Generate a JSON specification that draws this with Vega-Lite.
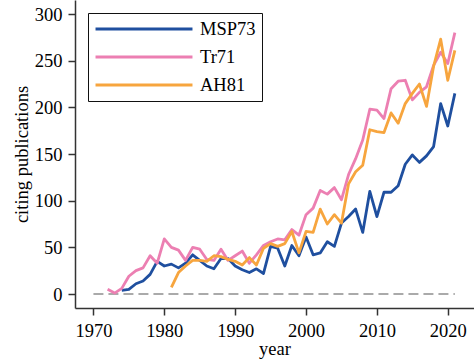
{
  "$schema": "https://vega.github.io/schema/vega-lite/v6.json",
  "width": 399,
  "height": 308,
  "autosize": {"type": "none"},
  "padding": {"left": 75, "top": 0, "right": 0, "bottom": 55},
  "background": "white",
  "config": {
    "view": {"stroke": null},
    "font": "Liberation Serif",
    "axis": {
      "grid": false,
      "domainColor": "#333333",
      "domainWidth": 1.5,
      "tickColor": "#333333",
      "tickWidth": 1.5,
      "tickSize": 7,
      "labelFont": "Liberation Serif",
      "labelFontSize": 18.5,
      "labelColor": "black",
      "titleFont": "Liberation Serif",
      "titleFontSize": 18.5,
      "titleFontWeight": "normal",
      "titleColor": "black"
    }
  },
  "datasets": {
    "zero": [{"year": 1970, "v": 0}, {"year": 2021, "v": 0}]
  },
  "layer": [
    {
      "data": {"name": "zero"},
      "mark": {"type": "line", "color": "#aaaaaa", "strokeWidth": 1.8, "strokeDash": [10, 5]},
      "encoding": {
        "x": {"field": "year", "type": "quantitative"},
        "y": {"field": "v", "type": "quantitative"}
      }
    },
    {
      "data": {
        "values": [
          {"year": 1974, "series": "MSP73", "count": 4},
          {"year": 1975, "series": "MSP73", "count": 5},
          {"year": 1976, "series": "MSP73", "count": 11},
          {"year": 1977, "series": "MSP73", "count": 14},
          {"year": 1978, "series": "MSP73", "count": 21},
          {"year": 1979, "series": "MSP73", "count": 35},
          {"year": 1980, "series": "MSP73", "count": 30},
          {"year": 1981, "series": "MSP73", "count": 32},
          {"year": 1982, "series": "MSP73", "count": 28},
          {"year": 1983, "series": "MSP73", "count": 33},
          {"year": 1984, "series": "MSP73", "count": 42},
          {"year": 1985, "series": "MSP73", "count": 36},
          {"year": 1986, "series": "MSP73", "count": 30},
          {"year": 1987, "series": "MSP73", "count": 27},
          {"year": 1988, "series": "MSP73", "count": 38},
          {"year": 1989, "series": "MSP73", "count": 38},
          {"year": 1990, "series": "MSP73", "count": 30},
          {"year": 1991, "series": "MSP73", "count": 26},
          {"year": 1992, "series": "MSP73", "count": 23},
          {"year": 1993, "series": "MSP73", "count": 27},
          {"year": 1994, "series": "MSP73", "count": 22},
          {"year": 1995, "series": "MSP73", "count": 51},
          {"year": 1996, "series": "MSP73", "count": 49},
          {"year": 1997, "series": "MSP73", "count": 30},
          {"year": 1998, "series": "MSP73", "count": 52},
          {"year": 1999, "series": "MSP73", "count": 41},
          {"year": 2000, "series": "MSP73", "count": 61},
          {"year": 2001, "series": "MSP73", "count": 42},
          {"year": 2002, "series": "MSP73", "count": 44},
          {"year": 2003, "series": "MSP73", "count": 56},
          {"year": 2004, "series": "MSP73", "count": 51},
          {"year": 2005, "series": "MSP73", "count": 76},
          {"year": 2006, "series": "MSP73", "count": 83},
          {"year": 2007, "series": "MSP73", "count": 91},
          {"year": 2008, "series": "MSP73", "count": 66},
          {"year": 2009, "series": "MSP73", "count": 110},
          {"year": 2010, "series": "MSP73", "count": 83},
          {"year": 2011, "series": "MSP73", "count": 109},
          {"year": 2012, "series": "MSP73", "count": 109},
          {"year": 2013, "series": "MSP73", "count": 116},
          {"year": 2014, "series": "MSP73", "count": 139},
          {"year": 2015, "series": "MSP73", "count": 149},
          {"year": 2016, "series": "MSP73", "count": 141},
          {"year": 2017, "series": "MSP73", "count": 148},
          {"year": 2018, "series": "MSP73", "count": 158},
          {"year": 2019, "series": "MSP73", "count": 204},
          {"year": 2020, "series": "MSP73", "count": 180},
          {"year": 2021, "series": "MSP73", "count": 215},
          {"year": 1972, "series": "Tr71", "count": 5},
          {"year": 1973, "series": "Tr71", "count": 1},
          {"year": 1974, "series": "Tr71", "count": 6},
          {"year": 1975, "series": "Tr71", "count": 19},
          {"year": 1976, "series": "Tr71", "count": 25},
          {"year": 1977, "series": "Tr71", "count": 28},
          {"year": 1978, "series": "Tr71", "count": 41},
          {"year": 1979, "series": "Tr71", "count": 33},
          {"year": 1980, "series": "Tr71", "count": 59},
          {"year": 1981, "series": "Tr71", "count": 50},
          {"year": 1982, "series": "Tr71", "count": 47},
          {"year": 1983, "series": "Tr71", "count": 36},
          {"year": 1984, "series": "Tr71", "count": 50},
          {"year": 1985, "series": "Tr71", "count": 48},
          {"year": 1986, "series": "Tr71", "count": 37},
          {"year": 1987, "series": "Tr71", "count": 36},
          {"year": 1988, "series": "Tr71", "count": 48},
          {"year": 1989, "series": "Tr71", "count": 36},
          {"year": 1990, "series": "Tr71", "count": 41},
          {"year": 1991, "series": "Tr71", "count": 46},
          {"year": 1992, "series": "Tr71", "count": 33},
          {"year": 1993, "series": "Tr71", "count": 42},
          {"year": 1994, "series": "Tr71", "count": 52},
          {"year": 1995, "series": "Tr71", "count": 56},
          {"year": 1996, "series": "Tr71", "count": 59},
          {"year": 1997, "series": "Tr71", "count": 58},
          {"year": 1998, "series": "Tr71", "count": 69},
          {"year": 1999, "series": "Tr71", "count": 63},
          {"year": 2000, "series": "Tr71", "count": 85},
          {"year": 2001, "series": "Tr71", "count": 92},
          {"year": 2002, "series": "Tr71", "count": 111},
          {"year": 2003, "series": "Tr71", "count": 107},
          {"year": 2004, "series": "Tr71", "count": 114},
          {"year": 2005, "series": "Tr71", "count": 101},
          {"year": 2006, "series": "Tr71", "count": 128},
          {"year": 2007, "series": "Tr71", "count": 145},
          {"year": 2008, "series": "Tr71", "count": 165},
          {"year": 2009, "series": "Tr71", "count": 198},
          {"year": 2010, "series": "Tr71", "count": 197},
          {"year": 2011, "series": "Tr71", "count": 188},
          {"year": 2012, "series": "Tr71", "count": 220},
          {"year": 2013, "series": "Tr71", "count": 228},
          {"year": 2014, "series": "Tr71", "count": 229},
          {"year": 2015, "series": "Tr71", "count": 208},
          {"year": 2016, "series": "Tr71", "count": 216},
          {"year": 2017, "series": "Tr71", "count": 222},
          {"year": 2018, "series": "Tr71", "count": 245},
          {"year": 2019, "series": "Tr71", "count": 259},
          {"year": 2020, "series": "Tr71", "count": 247},
          {"year": 2021, "series": "Tr71", "count": 280},
          {"year": 1981, "series": "AH81", "count": 7},
          {"year": 1982, "series": "AH81", "count": 23},
          {"year": 1983, "series": "AH81", "count": 30},
          {"year": 1984, "series": "AH81", "count": 36},
          {"year": 1985, "series": "AH81", "count": 36},
          {"year": 1986, "series": "AH81", "count": 35},
          {"year": 1987, "series": "AH81", "count": 41},
          {"year": 1988, "series": "AH81", "count": 40},
          {"year": 1989, "series": "AH81", "count": 37},
          {"year": 1990, "series": "AH81", "count": 35},
          {"year": 1991, "series": "AH81", "count": 31},
          {"year": 1992, "series": "AH81", "count": 39},
          {"year": 1993, "series": "AH81", "count": 31},
          {"year": 1994, "series": "AH81", "count": 49},
          {"year": 1995, "series": "AH81", "count": 54},
          {"year": 1996, "series": "AH81", "count": 51},
          {"year": 1997, "series": "AH81", "count": 54},
          {"year": 1998, "series": "AH81", "count": 67},
          {"year": 1999, "series": "AH81", "count": 44},
          {"year": 2000, "series": "AH81", "count": 67},
          {"year": 2001, "series": "AH81", "count": 66},
          {"year": 2002, "series": "AH81", "count": 91},
          {"year": 2003, "series": "AH81", "count": 75},
          {"year": 2004, "series": "AH81", "count": 85},
          {"year": 2005, "series": "AH81", "count": 76},
          {"year": 2006, "series": "AH81", "count": 118},
          {"year": 2007, "series": "AH81", "count": 131},
          {"year": 2008, "series": "AH81", "count": 138},
          {"year": 2009, "series": "AH81", "count": 176},
          {"year": 2010, "series": "AH81", "count": 174},
          {"year": 2011, "series": "AH81", "count": 173},
          {"year": 2012, "series": "AH81", "count": 194},
          {"year": 2013, "series": "AH81", "count": 183},
          {"year": 2014, "series": "AH81", "count": 204},
          {"year": 2015, "series": "AH81", "count": 215},
          {"year": 2016, "series": "AH81", "count": 225},
          {"year": 2017, "series": "AH81", "count": 201},
          {"year": 2018, "series": "AH81", "count": 244},
          {"year": 2019, "series": "AH81", "count": 273},
          {"year": 2020, "series": "AH81", "count": 229},
          {"year": 2021, "series": "AH81", "count": 261}
        ]
      },
      "mark": {"type": "line", "strokeWidth": 2.8, "strokeJoin": "round"},
      "encoding": {
        "x": {
          "field": "year", "type": "quantitative", "title": "year",
          "scale": {"domain": [1967.4, 2023.7], "nice": false, "zero": false},
          "axis": {"values": [1970, 1980, 1990, 2000, 2010, 2020], "format": "d", "labelPadding": 6, "titlePadding": 0}
        },
        "y": {
          "field": "count", "type": "quantitative", "title": "citing publications",
          "scale": {"domain": [-15, 315], "nice": false, "zero": false},
          "axis": {"values": [0, 50, 100, 150, 200, 250, 300], "labelPadding": 6, "titlePadding": 3}
        },
        "color": {
          "field": "series", "type": "nominal",
          "sort": ["MSP73", "Tr71", "AH81"],
          "scale": {"domain": ["MSP73", "Tr71", "AH81"], "range": ["#1f4f9f", "#ec7fb2", "#f7a53e"]},
          "legend": {
            "title": null,
            "orient": "top-left",
            "offset": 13,
            "symbolType": "stroke",
            "symbolSize": 9400,
            "symbolStrokeWidth": 3,
            "clipHeight": 20,
            "rowPadding": 8,
            "labelOffset": 6,
            "labelFont": "Liberation Serif",
            "labelFontSize": 18.5,
            "labelColor": "black",
            "padding": 6,
            "strokeColor": "#111111",
            "fillColor": "white",
            "cornerRadius": 0
          }
        }
      }
    }
  ]
}
